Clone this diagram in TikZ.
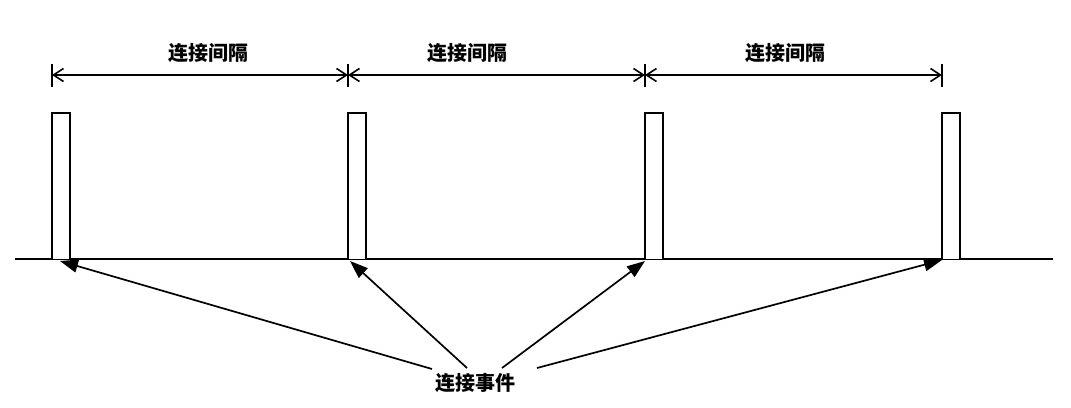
\documentclass[tikz,border=0pt]{standalone}
\usepackage{fontspec}
\newfontfamily\cjk{Noto Sans CJK SC}
\usetikzlibrary{arrows.meta}
\begin{document}
\begin{tikzpicture}[x=1pt,y=-1pt,line width=1.7pt,
  pulse/.style={draw,fill=white,line width=1.6pt},
  dimarrow/.style={{Straight Barb[length=10pt,width=13pt,line width=1.6pt]}-{Straight Barb[length=10pt,width=13pt,line width=1.6pt]}},
  evarrow/.style={-{Triangle[length=18pt,width=13pt]}},
  lbl/.style={font=\cjk\fontsize{20}{22}\selectfont\bfseries, inner sep=0pt}]
\useasboundingbox (0,0) rectangle (1071,407);
% baseline
\coordinate (bl) at (15,259);
\coordinate (br) at (1053,259);
\draw (bl) -- (br);
% pulses
\foreach \i/\x in {1/52,2/348,3/645,4/942}{
  \draw[pulse] (\x,259) -- (\x,113) -- (\x+18,113) -- (\x+18,259);
  \coordinate (t\i) at (\x,75);
  \draw[line width=1.6pt] (\x,64) -- (\x,87);
}
% dimension lines
\draw[dimarrow] (t1) -- (t2);
\draw[dimarrow] (t2) -- (t3);
\draw[dimarrow] (t3) -- (t4);
\node[lbl] (g1) at (208,53) {连接间隔};
\node[lbl] (g2) at (467,53) {连接间隔};
\node[lbl] (g3) at (785,53) {连接间隔};
% event label
\node[lbl] (ev) at (475,383) {连接事件};
\coordinate (e1) at (60,261);
\coordinate (e2) at (350,261);
\coordinate (e3) at (645,261);
\coordinate (e4) at (942,260);
\coordinate (s1) at (432,369);
\coordinate (s2) at (467,368);
\coordinate (s3) at (502,368);
\coordinate (s4) at (537,368);
\draw[evarrow] (s1) -- (e1);
\draw[evarrow] (s2) -- (e2);
\draw[evarrow] (s3) -- (e3);
\draw[evarrow] (s4) -- (e4);
\end{tikzpicture}
\end{document}
